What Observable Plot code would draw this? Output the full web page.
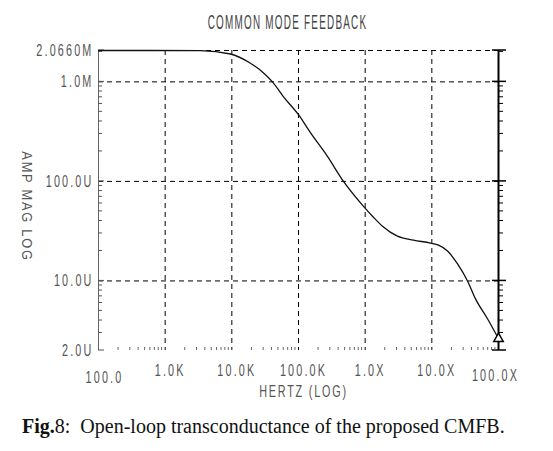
<!DOCTYPE html>
<html><head><meta charset="utf-8">
<script src="https://cdn.jsdelivr.net/npm/d3@7"></script>
<script src="https://cdn.jsdelivr.net/npm/@observablehq/plot@0.6"></script>
<style>
body{margin:0;background:#fff;width:553px;height:451px;overflow:hidden}
#chart svg{display:block}
#cap{font-family:"Liberation Serif","Times New Roman",serif;font-size:20px;line-height:23px;color:#111;margin:10px 0 0 22px;white-space:nowrap}
</style></head><body>
<div id="chart"></div>
<div id="cap"><b>Fig.</b>8:&nbsp; Open-loop transconductance of the proposed CMFB.</div>
<script>
const title = "COMMON MODE FEEDBACK";
const xLabel = "HERTZ (LOG)";
const yLabel = "AMP MAG LOG";
const freqHz = [100, 602, 3390, 9550, 19000, 29900, 40700, 59600, 100000, 151000, 272000, 473000, 944000, 1.33e6, 1.82e6, 3.05e6, 5.3e6, 9.55e6, 1.26e7, 1.72e7, 2.43e7, 3.43e7, 4.52e7, 6.84e7, 1e8];
const gmMag = [2.066e-3, 2.066e-3, 2.056e-3, 1.905e-3, 1.538e-3, 1.23e-3, 1.0e-3, 0.708e-3, 0.468e-3, 0.309e-3, 0.178e-3, 1.0e-4, 5.62e-5, 4.37e-5, 3.55e-5, 2.82e-5, 2.57e-5, 2.40e-5, 2.29e-5, 2.0e-5, 1.48e-5, 1.0e-5, 6.6e-6, 4.17e-6, 2.63e-6];
const xTickValues = [1e2, 1e3, 1e4, 1e5, 1e6, 1e7, 1e8];
const xTickLabels = ["100.0", "1.0K", "10.0K", "100.0K", "1.0X", "10.0X", "100.0X"];
const yTickValues = [2.066e-3, 1e-3, 1e-4, 1e-5, 2e-6];
const yTickLabels = ["2.0660M", "1.0M", "100.0U", "10.0U", "2.0U"];

const data = freqHz.map((f, i) => ({f, g: gmMag[i]}));
const yMinor = [], xMinor = [];
for (let e = -6; e <= -3; e++) for (let m = 2; m <= 9; m++) { const v = m * 10 ** e; if (v > 2e-6 && v < 2.066e-3) yMinor.push(v); }
for (let e = 2; e < 8; e++) for (let m = 2; m <= 9; m++) xMinor.push(m * 10 ** e);

const font = '"Liberation Sans",Arial,sans-serif';

function frameTicks(index, scales, values, dims) {
  const {x, y} = scales;
  const L = dims.marginLeft, R = dims.width - dims.marginRight, B = dims.height - dims.marginBottom;
  const g = d3.create("svg:g").attr("fill", "none");
  for (const v of yMinor) g.append("line").attr("x1", L).attr("x2", L + 4).attr("y1", y(v)).attr("y2", y(v)).attr("stroke", "#555");
  for (const v of yTickValues) g.append("line").attr("x1", L).attr("x2", L + 6).attr("y1", y(v)).attr("y2", y(v)).attr("stroke", "#555");
  for (const v of yMinor) g.append("line").attr("x1", R).attr("x2", R + 5).attr("y1", y(v)).attr("y2", y(v)).attr("stroke", "#000");
  for (const v of yTickValues) g.append("line").attr("x1", R - 6).attr("x2", R + 8).attr("y1", y(v)).attr("y2", y(v)).attr("stroke", "#000").attr("stroke-width", 1.5);
  for (const v of xMinor) g.append("line").attr("x1", x(v)).attr("x2", x(v)).attr("y1", B - 3).attr("y2", B).attr("stroke", "#666");
  return g.node();
}

const lbl = {fontSize: 15, fill: "#555"};
const chart = Plot.plot({
  width: 553, height: 405,
  marginLeft: 98, marginRight: 55, marginTop: 50, marginBottom: 55,
  x: {type: "log", domain: [1e2, 1e8], axis: null},
  y: {type: "log", domain: [2e-6, 2.066e-3], axis: null},
  style: {fontFamily: font, background: "white", color: "#333"},
  marks: [
    Plot.ruleX(xTickValues.slice(1, -1), {x: d => d, stroke: "#000", strokeDasharray: "5,4"}),
    Plot.ruleY(yTickValues.slice(0, -1), {y: d => d, stroke: "#000", strokeDasharray: "5,4"}),
    Plot.ruleX([xTickValues[0]], {x: d => d, stroke: "#666"}),
    Plot.ruleX([xTickValues[xTickValues.length - 1]], {x: d => d, stroke: "#000", strokeWidth: 2}),
    frameTicks,
    Plot.line(data, {x: "f", y: "g", curve: "monotone-x", stroke: "#111", strokeWidth: 1.3}),
    Plot.dot([data[data.length - 1]], {x: "f", y: "g", symbol: "triangle", r: 3.5, stroke: "#000", fill: "white"}),
    Plot.text(yTickValues, {y: d => d, frameAnchor: "left", text: (d, i) => yTickLabels[i], textAnchor: "end", dx: -5, ...lbl, className: "sq-tick"}),
    Plot.text(xTickValues.slice(1, -1), {x: d => d, frameAnchor: "bottom", text: (d, i) => xTickLabels[i + 1], dy: 25, dx: 5, ...lbl, className: "sq-tick"}),
    Plot.text([xTickValues[0]], {x: d => d, frameAnchor: "bottom", text: () => xTickLabels[0], dy: 32, dx: 6, ...lbl, className: "sq-tick"}),
    Plot.text([xTickValues[xTickValues.length - 1]], {x: d => d, frameAnchor: "bottom", text: () => xTickLabels[xTickLabels.length - 1], dy: 30, dx: -3, ...lbl, className: "sq-tick"}),
    Plot.text([xLabel], {frameAnchor: "bottom", text: d => d, dy: 46, dx: 5, ...lbl, className: "sq-xlab"}),
    Plot.text([title], {frameAnchor: "top", text: d => d, dy: -36, dx: -11, fontSize: 16, fill: "#444", className: "sq-title"}),
    Plot.text([yLabel], {frameAnchor: "left", text: d => d, textAnchor: "middle", rotate: 90, dx: -72, dy: 6, ...lbl, className: "sq-ylab"})
  ]
});

function squash(sel, sx, sy, ls) {
  chart.querySelectorAll(sel + " text").forEach(t => {
    const tr = t.getAttribute("transform") || "";
    t.setAttribute("transform", tr + ` scale(${sx},${sy})`);
    t.style.letterSpacing = ls + "px";
  });
}
squash(".sq-tick", 0.72, 1.1, 3);
squash(".sq-xlab", 0.72, 1.1, 2.5);
squash(".sq-title", 0.62, 1.3, 2);
squash(".sq-ylab", 0.86, 1.0, 2);
document.getElementById("chart").append(chart);
</script>
</body></html>
